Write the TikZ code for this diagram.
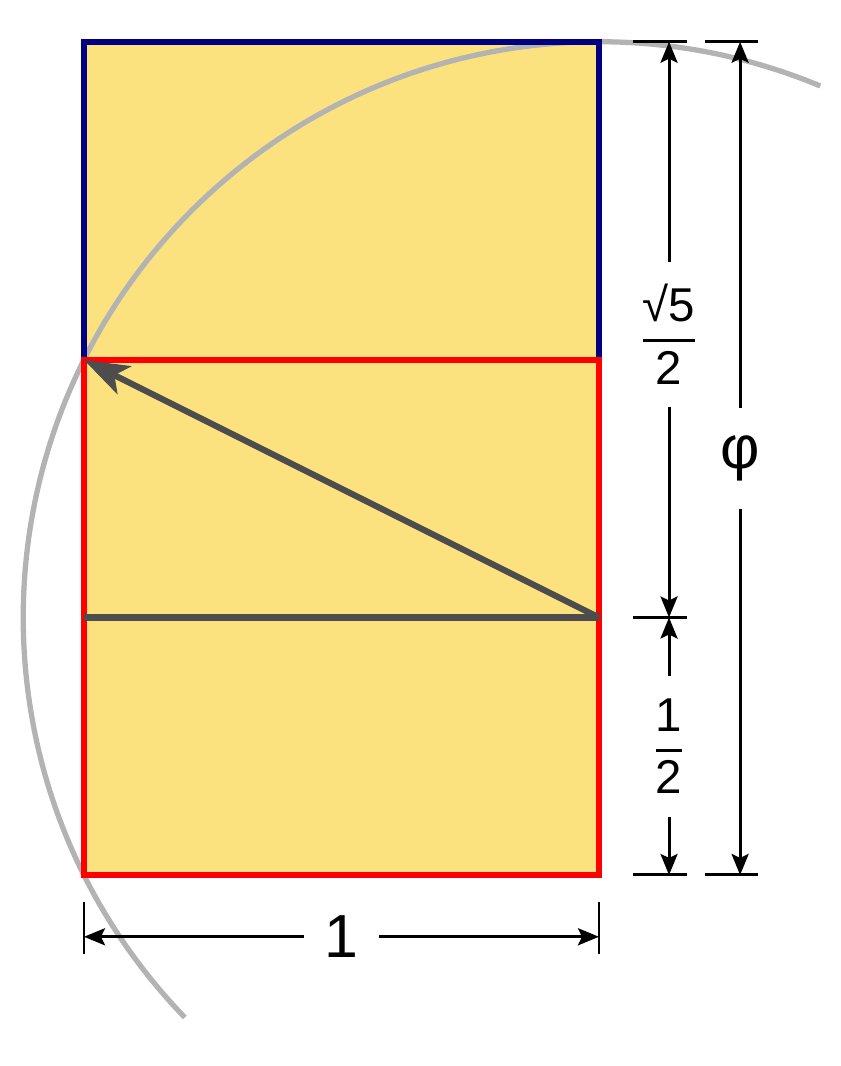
\documentclass[tikz,border=0pt]{standalone}
\usepackage{amsmath}
\usepackage{fontspec}
\setmainfont{Liberation Sans}
\usetikzlibrary{arrows.meta}
\definecolor{rectfill}{HTML}{FCE27E}
\definecolor{topblue}{HTML}{000080}
\definecolor{arcgray}{HTML}{B3B3B3}
\definecolor{linegray}{HTML}{4D4D4D}

\begin{document}
\begin{tikzpicture}[x=10.3cm,y=10.3cm,
                    side/.style={line width=3.5pt},
                    dim/.style={line width=1.7pt,-{Stealth[length=0.42cm,width=0.34cm,inset=0.08cm]}},
                    tick/.style={line width=1.7pt},
                    dim label/.style={inner xsep=0.4cm,inner ysep=0.55cm},
                    big/.style={font=\fontsize{34.6}{40}\selectfont},
                    small/.style={font=\fontsize{27}{32}\selectfont,inner ysep=0.45cm}]

  \useasboundingbox[fill=white] (-0.1631,-0.3709) rectangle (1.468,1.699);

  \coordinate (A) at (0,0);
  \coordinate (B) at (1,0);
  \coordinate (C) at (1,1);
  \coordinate (D) at (0,1);
  \coordinate (E) at (0,1.618);
  \coordinate (F) at (1,1.618);
  \coordinate (M) at (0,0.5);
  \coordinate (N) at (1,0.5);

  \fill[rectfill] (A) rectangle (F);
  \draw[line width=3pt,arcgray] (N) ++(224:1.118) arc[start angle=224,end angle=67.4,radius=1.118];
  \draw[side,topblue] (D) rectangle (F);
  \draw[side,red] (A) rectangle (C);
  \draw[side,linegray] (M) -- (N);
  \draw[side,linegray,-{Stealth[length=0.9cm,width=0.62cm,inset=0.22cm]}] (N) -- (D);

  \coordinate (t1) at (1.136,1.618);
  \coordinate (t2) at (1.136,0.5);
  \coordinate (t3) at (1.136,0);
  \coordinate (u1) at (1.274,1.618);
  \coordinate (u2) at (1.274,0);
  \coordinate (v1) at (0,-0.12);
  \coordinate (v2) at (1,-0.12);

  \node[dim label,small] (root5) at (1.136,1.05) {$\genfrac{}{}{1.7pt}{0}{\mbox{√5}}{\mbox{2}}$};
  \node[dim label,small] (half) at (1.136,0.25) {$\genfrac{}{}{1.7pt}{0}{\mbox{1}}{\mbox{2}}$};
  \node[dim label,big] (phi) at (1.274,0.809) {φ};
  \node[dim label,big] (one) at (0.5,-0.12) {1};

  \foreach \p in {t1,t2,t3} \draw[tick] (\p) +(-0.07,0) -- +(0.035,0);
  \foreach \p in {u1,u2} \draw[tick] (\p) +(-0.068,0) -- +(0.035,0);
  \foreach \p in {v1,v2} \draw[tick] (\p) +(0,0.068) -- +(0,-0.033);

  \path[every edge/.append style={dim}]
    (root5) edge (t1)
            edge (t2)
    (half) edge (t2)
           edge (t3)
    (phi) edge (u1)
          edge (u2)
    (one) edge (v1)
          edge (v2);
\end{tikzpicture}
\end{document}
